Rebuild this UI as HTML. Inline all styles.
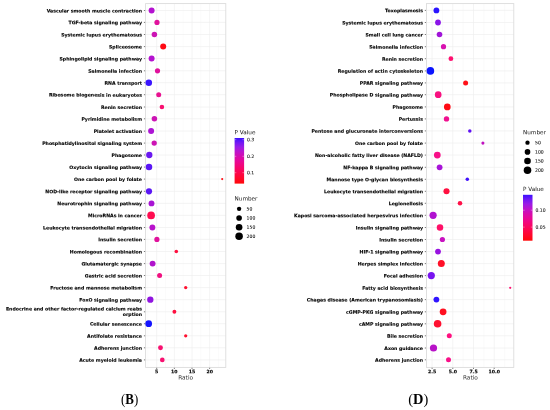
<!DOCTYPE html>
<html><head><meta charset="utf-8"><title>KEGG enrichment bubble plots</title>
<style>
html,body{margin:0;padding:0;background:#fff;}
svg{display:block;}
.lb{font-family:"DejaVu Sans","Liberation Sans",sans-serif;font-weight:bold;font-size:4.67px;fill:#000;stroke:#000;stroke-width:0.12px;}
.ax{font-family:"DejaVu Sans","Liberation Sans",sans-serif;font-size:5.8px;fill:#333;}
.lt{font-family:"DejaVu Sans","Liberation Sans",sans-serif;font-size:5.7px;fill:#111;}
.ll{font-family:"DejaVu Sans","Liberation Sans",sans-serif;font-size:4.55px;fill:#000;stroke:#000;stroke-width:0.05px;}
.cap{font-family:"Liberation Serif","DejaVu Serif",serif;font-size:13.9px;fill:#000;}
</style></head><body>
<svg width="550" height="410" viewBox="0 0 550 410">
<defs><linearGradient id="g1" x1="0" y1="0" x2="0" y2="1">
<stop offset="0" stop-color="#3a10ff"/><stop offset="0.1" stop-color="#7018f4"/><stop offset="0.2" stop-color="#9a1ce6"/><stop offset="0.3" stop-color="#bc14cc"/><stop offset="0.4" stop-color="#d40cb0"/><stop offset="0.5" stop-color="#e60898"/><stop offset="0.6" stop-color="#f2067c"/><stop offset="0.75" stop-color="#fc0650"/><stop offset="0.88" stop-color="#ff082c"/><stop offset="1" stop-color="#ff0808"/>
</linearGradient><linearGradient id="g2" x1="0" y1="0" x2="0" y2="1">
<stop offset="0" stop-color="#3a10ff"/><stop offset="0.1" stop-color="#7018f4"/><stop offset="0.2" stop-color="#9a1ce6"/><stop offset="0.3" stop-color="#bc14cc"/><stop offset="0.4" stop-color="#d40cb0"/><stop offset="0.5" stop-color="#e60898"/><stop offset="0.6" stop-color="#f2067c"/><stop offset="0.75" stop-color="#fc0650"/><stop offset="0.88" stop-color="#ff082c"/><stop offset="1" stop-color="#ff0808"/>
</linearGradient></defs>
<rect width="550" height="410" fill="#fff"/>
<line x1="147.9" y1="3.6" x2="147.9" y2="367.4" stroke="#f6f6f6" stroke-width="0.4"/>
<line x1="165.5" y1="3.6" x2="165.5" y2="367.4" stroke="#f6f6f6" stroke-width="0.4"/>
<line x1="183.2" y1="3.6" x2="183.2" y2="367.4" stroke="#f6f6f6" stroke-width="0.4"/>
<line x1="200.8" y1="3.6" x2="200.8" y2="367.4" stroke="#f6f6f6" stroke-width="0.4"/>
<line x1="218.5" y1="3.6" x2="218.5" y2="367.4" stroke="#f6f6f6" stroke-width="0.4"/>
<line x1="156.7" y1="3.6" x2="156.7" y2="367.4" stroke="#eeeeee" stroke-width="0.65"/>
<line x1="174.35" y1="3.6" x2="174.35" y2="367.4" stroke="#eeeeee" stroke-width="0.65"/>
<line x1="192.0" y1="3.6" x2="192.0" y2="367.4" stroke="#eeeeee" stroke-width="0.65"/>
<line x1="209.65" y1="3.6" x2="209.65" y2="367.4" stroke="#eeeeee" stroke-width="0.65"/>
<line x1="145.6" y1="10.5" x2="225.8" y2="10.5" stroke="#eeeeee" stroke-width="0.65"/>
<line x1="145.6" y1="22.4" x2="225.8" y2="22.4" stroke="#eeeeee" stroke-width="0.65"/>
<line x1="145.6" y1="34.5" x2="225.8" y2="34.5" stroke="#eeeeee" stroke-width="0.65"/>
<line x1="145.6" y1="46.6" x2="225.8" y2="46.6" stroke="#eeeeee" stroke-width="0.65"/>
<line x1="145.6" y1="58.6" x2="225.8" y2="58.6" stroke="#eeeeee" stroke-width="0.65"/>
<line x1="145.6" y1="70.8" x2="225.8" y2="70.8" stroke="#eeeeee" stroke-width="0.65"/>
<line x1="145.6" y1="82.7" x2="225.8" y2="82.7" stroke="#eeeeee" stroke-width="0.65"/>
<line x1="145.6" y1="94.7" x2="225.8" y2="94.7" stroke="#eeeeee" stroke-width="0.65"/>
<line x1="145.6" y1="107.0" x2="225.8" y2="107.0" stroke="#eeeeee" stroke-width="0.65"/>
<line x1="145.6" y1="118.8" x2="225.8" y2="118.8" stroke="#eeeeee" stroke-width="0.65"/>
<line x1="145.6" y1="131.1" x2="225.8" y2="131.1" stroke="#eeeeee" stroke-width="0.65"/>
<line x1="145.6" y1="143.1" x2="225.8" y2="143.1" stroke="#eeeeee" stroke-width="0.65"/>
<line x1="145.6" y1="155.0" x2="225.8" y2="155.0" stroke="#eeeeee" stroke-width="0.65"/>
<line x1="145.6" y1="167.1" x2="225.8" y2="167.1" stroke="#eeeeee" stroke-width="0.65"/>
<line x1="145.6" y1="179.1" x2="225.8" y2="179.1" stroke="#eeeeee" stroke-width="0.65"/>
<line x1="145.6" y1="191.3" x2="225.8" y2="191.3" stroke="#eeeeee" stroke-width="0.65"/>
<line x1="145.6" y1="203.4" x2="225.8" y2="203.4" stroke="#eeeeee" stroke-width="0.65"/>
<line x1="145.6" y1="215.4" x2="225.8" y2="215.4" stroke="#eeeeee" stroke-width="0.65"/>
<line x1="145.6" y1="227.5" x2="225.8" y2="227.5" stroke="#eeeeee" stroke-width="0.65"/>
<line x1="145.6" y1="239.4" x2="225.8" y2="239.4" stroke="#eeeeee" stroke-width="0.65"/>
<line x1="145.6" y1="251.5" x2="225.8" y2="251.5" stroke="#eeeeee" stroke-width="0.65"/>
<line x1="145.6" y1="263.6" x2="225.8" y2="263.6" stroke="#eeeeee" stroke-width="0.65"/>
<line x1="145.6" y1="275.5" x2="225.8" y2="275.5" stroke="#eeeeee" stroke-width="0.65"/>
<line x1="145.6" y1="287.6" x2="225.8" y2="287.6" stroke="#eeeeee" stroke-width="0.65"/>
<line x1="145.6" y1="299.7" x2="225.8" y2="299.7" stroke="#eeeeee" stroke-width="0.65"/>
<line x1="145.6" y1="311.8" x2="225.8" y2="311.8" stroke="#eeeeee" stroke-width="0.65"/>
<line x1="145.6" y1="323.7" x2="225.8" y2="323.7" stroke="#eeeeee" stroke-width="0.65"/>
<line x1="145.6" y1="335.8" x2="225.8" y2="335.8" stroke="#eeeeee" stroke-width="0.65"/>
<line x1="145.6" y1="347.8" x2="225.8" y2="347.8" stroke="#eeeeee" stroke-width="0.65"/>
<line x1="145.6" y1="359.9" x2="225.8" y2="359.9" stroke="#eeeeee" stroke-width="0.65"/>
<rect x="145.6" y="3.6" width="80.20000000000002" height="363.79999999999995" fill="none" stroke="#dadada" stroke-width="0.85"/>
<line x1="143.90" y1="10.5" x2="145.10" y2="10.5" stroke="#444444" stroke-width="0.7"/>
<text transform="translate(142.00,12.45) rotate(0.03)" text-anchor="end" class="lb">Vascular smooth muscle contraction</text>
<circle cx="151.6" cy="10.5" r="3.00" fill="#b412d0"/>
<line x1="143.90" y1="22.4" x2="145.10" y2="22.4" stroke="#444444" stroke-width="0.7"/>
<text transform="translate(142.00,24.35) rotate(0.03)" text-anchor="end" class="lb">TGF-beta signaling pathway</text>
<circle cx="157.0" cy="22.4" r="2.60" fill="#e0129c"/>
<line x1="143.90" y1="34.5" x2="145.10" y2="34.5" stroke="#444444" stroke-width="0.7"/>
<text transform="translate(142.00,36.45) rotate(0.03)" text-anchor="end" class="lb">Systemic lupus erythematosus</text>
<circle cx="154.4" cy="34.5" r="2.75" fill="#cc14b4"/>
<line x1="143.90" y1="46.6" x2="145.10" y2="46.6" stroke="#444444" stroke-width="0.7"/>
<text transform="translate(142.00,48.55) rotate(0.03)" text-anchor="end" class="lb">Spliceosome</text>
<circle cx="163.2" cy="46.6" r="3.00" fill="#ff0a14"/>
<line x1="143.90" y1="58.6" x2="145.10" y2="58.6" stroke="#444444" stroke-width="0.7"/>
<text transform="translate(142.00,60.55) rotate(0.03)" text-anchor="end" class="lb">Sphingolipid signaling pathway</text>
<circle cx="151.6" cy="58.6" r="3.00" fill="#b412d0"/>
<line x1="143.90" y1="70.8" x2="145.10" y2="70.8" stroke="#444444" stroke-width="0.7"/>
<text transform="translate(142.00,72.75) rotate(0.03)" text-anchor="end" class="lb">Salmonella infection</text>
<circle cx="157.5" cy="70.8" r="2.60" fill="#e0129c"/>
<line x1="143.90" y1="82.7" x2="145.10" y2="82.7" stroke="#444444" stroke-width="0.7"/>
<text transform="translate(142.00,84.65) rotate(0.03)" text-anchor="end" class="lb">RNA transport</text>
<circle cx="148.8" cy="82.7" r="3.25" fill="#3a14ff"/>
<line x1="143.90" y1="94.7" x2="145.10" y2="94.7" stroke="#444444" stroke-width="0.7"/>
<text transform="translate(142.00,96.65) rotate(0.03)" text-anchor="end" class="lb">Ribosome biogenesis in eukaryotes</text>
<circle cx="158.7" cy="94.7" r="2.50" fill="#e81290"/>
<line x1="143.90" y1="107.0" x2="145.10" y2="107.0" stroke="#444444" stroke-width="0.7"/>
<text transform="translate(142.00,108.95) rotate(0.03)" text-anchor="end" class="lb">Renin secretion</text>
<circle cx="161.9" cy="107.0" r="2.30" fill="#f81070"/>
<line x1="143.90" y1="118.8" x2="145.10" y2="118.8" stroke="#444444" stroke-width="0.7"/>
<text transform="translate(142.00,120.75) rotate(0.03)" text-anchor="end" class="lb">Pyrimidine metabolism</text>
<circle cx="154.4" cy="118.8" r="2.75" fill="#cc14b4"/>
<line x1="143.90" y1="131.1" x2="145.10" y2="131.1" stroke="#444444" stroke-width="0.7"/>
<text transform="translate(142.00,133.05) rotate(0.03)" text-anchor="end" class="lb">Platelet activation</text>
<circle cx="151.1" cy="131.1" r="3.00" fill="#ac14d4"/>
<line x1="143.90" y1="143.1" x2="145.10" y2="143.1" stroke="#444444" stroke-width="0.7"/>
<text transform="translate(142.00,145.05) rotate(0.03)" text-anchor="end" class="lb">Phosphatidylinositol signaling system</text>
<circle cx="154.2" cy="143.1" r="2.65" fill="#cc14b4"/>
<line x1="143.90" y1="155.0" x2="145.10" y2="155.0" stroke="#444444" stroke-width="0.7"/>
<text transform="translate(142.00,156.95) rotate(0.03)" text-anchor="end" class="lb">Phagosome</text>
<circle cx="149.3" cy="155.0" r="3.15" fill="#6a18f0"/>
<line x1="143.90" y1="167.1" x2="145.10" y2="167.1" stroke="#444444" stroke-width="0.7"/>
<text transform="translate(142.00,169.05) rotate(0.03)" text-anchor="end" class="lb">Oxytocin signaling pathway</text>
<circle cx="149.0" cy="167.1" r="3.25" fill="#5a16f5"/>
<line x1="143.90" y1="179.1" x2="145.10" y2="179.1" stroke="#444444" stroke-width="0.7"/>
<text transform="translate(142.00,181.05) rotate(0.03)" text-anchor="end" class="lb">One carbon pool by folate</text>
<circle cx="222.2" cy="179.1" r="1.05" fill="#ff1018"/>
<line x1="143.90" y1="191.3" x2="145.10" y2="191.3" stroke="#444444" stroke-width="0.7"/>
<text transform="translate(142.00,193.25) rotate(0.03)" text-anchor="end" class="lb">NOD-like receptor signaling pathway</text>
<circle cx="149.0" cy="191.3" r="3.10" fill="#5a16f5"/>
<line x1="143.90" y1="203.4" x2="145.10" y2="203.4" stroke="#444444" stroke-width="0.7"/>
<text transform="translate(142.00,205.35) rotate(0.03)" text-anchor="end" class="lb">Neurotrophin signaling pathway</text>
<circle cx="151.5" cy="203.4" r="2.95" fill="#a814d4"/>
<line x1="143.90" y1="215.4" x2="145.10" y2="215.4" stroke="#444444" stroke-width="0.7"/>
<text transform="translate(142.00,217.35) rotate(0.03)" text-anchor="end" class="lb">MicroRNAs in cancer</text>
<circle cx="151.1" cy="215.4" r="3.85" fill="#ff0c50"/>
<line x1="143.90" y1="227.5" x2="145.10" y2="227.5" stroke="#444444" stroke-width="0.7"/>
<text transform="translate(142.00,229.45) rotate(0.03)" text-anchor="end" class="lb">Leukocyte transendothelial migration</text>
<circle cx="152.4" cy="227.5" r="2.95" fill="#b812cc"/>
<line x1="143.90" y1="239.4" x2="145.10" y2="239.4" stroke="#444444" stroke-width="0.7"/>
<text transform="translate(142.00,241.35) rotate(0.03)" text-anchor="end" class="lb">Insulin secretion</text>
<circle cx="156.9" cy="239.4" r="2.60" fill="#e0129c"/>
<line x1="143.90" y1="251.5" x2="145.10" y2="251.5" stroke="#444444" stroke-width="0.7"/>
<text transform="translate(142.00,253.45) rotate(0.03)" text-anchor="end" class="lb">Homologous recombination</text>
<circle cx="176.3" cy="251.5" r="1.80" fill="#ff1040"/>
<line x1="143.90" y1="263.6" x2="145.10" y2="263.6" stroke="#444444" stroke-width="0.7"/>
<text transform="translate(142.00,265.55) rotate(0.03)" text-anchor="end" class="lb">Glutamatergic synapse</text>
<circle cx="152.6" cy="263.6" r="2.95" fill="#b014cc"/>
<line x1="143.90" y1="275.5" x2="145.10" y2="275.5" stroke="#444444" stroke-width="0.7"/>
<text transform="translate(142.00,277.45) rotate(0.03)" text-anchor="end" class="lb">Gastric acid secretion</text>
<circle cx="159.6" cy="275.5" r="2.50" fill="#f01080"/>
<line x1="143.90" y1="287.6" x2="145.10" y2="287.6" stroke="#444444" stroke-width="0.7"/>
<text transform="translate(142.00,289.55) rotate(0.03)" text-anchor="end" class="lb">Fructose and mannose metabolism</text>
<circle cx="185.7" cy="287.6" r="1.65" fill="#ff1030"/>
<line x1="143.90" y1="299.7" x2="145.10" y2="299.7" stroke="#444444" stroke-width="0.7"/>
<text transform="translate(142.00,301.65) rotate(0.03)" text-anchor="end" class="lb">FoxO signaling pathway</text>
<circle cx="150.3" cy="299.7" r="3.15" fill="#9014e0"/>
<line x1="143.90" y1="311.8" x2="145.10" y2="311.8" stroke="#444444" stroke-width="0.7"/>
<text transform="translate(142.00,310.60) rotate(0.03)" text-anchor="end" class="lb">Endocrine and other factor-regulated calcium reabs</text>
<text transform="translate(142.00,316.10) rotate(0.03)" text-anchor="end" class="lb">orption</text>
<circle cx="174.4" cy="311.8" r="1.95" fill="#ff1040"/>
<line x1="143.90" y1="323.7" x2="145.10" y2="323.7" stroke="#444444" stroke-width="0.7"/>
<text transform="translate(142.00,325.65) rotate(0.03)" text-anchor="end" class="lb">Cellular senescence</text>
<circle cx="148.7" cy="323.7" r="3.35" fill="#1414ff"/>
<line x1="143.90" y1="335.8" x2="145.10" y2="335.8" stroke="#444444" stroke-width="0.7"/>
<text transform="translate(142.00,337.75) rotate(0.03)" text-anchor="end" class="lb">Antifolate resistance</text>
<circle cx="185.7" cy="335.8" r="1.65" fill="#ff1030"/>
<line x1="143.90" y1="347.8" x2="145.10" y2="347.8" stroke="#444444" stroke-width="0.7"/>
<text transform="translate(142.00,349.75) rotate(0.03)" text-anchor="end" class="lb">Adherens junction</text>
<circle cx="160.5" cy="347.8" r="2.45" fill="#f81070"/>
<line x1="143.90" y1="359.9" x2="145.10" y2="359.9" stroke="#444444" stroke-width="0.7"/>
<text transform="translate(142.00,361.85) rotate(0.03)" text-anchor="end" class="lb">Acute myeloid leukemia</text>
<circle cx="162.3" cy="359.9" r="2.35" fill="#f81070"/>
<line x1="156.7" y1="367.79999999999995" x2="156.7" y2="369.0" stroke="#444444" stroke-width="0.7"/>
<text transform="translate(156.70,373.20) rotate(0.03)" text-anchor="middle" class="lb">5</text>
<line x1="174.35" y1="367.79999999999995" x2="174.35" y2="369.0" stroke="#444444" stroke-width="0.7"/>
<text transform="translate(174.35,373.20) rotate(0.03)" text-anchor="middle" class="lb">10</text>
<line x1="192.0" y1="367.79999999999995" x2="192.0" y2="369.0" stroke="#444444" stroke-width="0.7"/>
<text transform="translate(192.00,373.20) rotate(0.03)" text-anchor="middle" class="lb">15</text>
<line x1="209.65" y1="367.79999999999995" x2="209.65" y2="369.0" stroke="#444444" stroke-width="0.7"/>
<text transform="translate(209.65,373.20) rotate(0.03)" text-anchor="middle" class="lb">20</text>
<text transform="translate(185.60,379.60) rotate(0.03)" text-anchor="middle" class="ax">Ratio</text>
<line x1="442.45" y1="3.6" x2="442.45" y2="367.4" stroke="#f6f6f6" stroke-width="0.4"/>
<line x1="463.15" y1="3.6" x2="463.15" y2="367.4" stroke="#f6f6f6" stroke-width="0.4"/>
<line x1="483.85" y1="3.6" x2="483.85" y2="367.4" stroke="#f6f6f6" stroke-width="0.4"/>
<line x1="504.55" y1="3.6" x2="504.55" y2="367.4" stroke="#f6f6f6" stroke-width="0.4"/>
<line x1="432.1" y1="3.6" x2="432.1" y2="367.4" stroke="#eeeeee" stroke-width="0.65"/>
<line x1="452.8" y1="3.6" x2="452.8" y2="367.4" stroke="#eeeeee" stroke-width="0.65"/>
<line x1="473.5" y1="3.6" x2="473.5" y2="367.4" stroke="#eeeeee" stroke-width="0.65"/>
<line x1="494.2" y1="3.6" x2="494.2" y2="367.4" stroke="#eeeeee" stroke-width="0.65"/>
<line x1="426.5" y1="10.4" x2="513.8" y2="10.4" stroke="#eeeeee" stroke-width="0.65"/>
<line x1="426.5" y1="22.5" x2="513.8" y2="22.5" stroke="#eeeeee" stroke-width="0.65"/>
<line x1="426.5" y1="34.5" x2="513.8" y2="34.5" stroke="#eeeeee" stroke-width="0.65"/>
<line x1="426.5" y1="46.7" x2="513.8" y2="46.7" stroke="#eeeeee" stroke-width="0.65"/>
<line x1="426.5" y1="58.7" x2="513.8" y2="58.7" stroke="#eeeeee" stroke-width="0.65"/>
<line x1="426.5" y1="70.9" x2="513.8" y2="70.9" stroke="#eeeeee" stroke-width="0.65"/>
<line x1="426.5" y1="82.9" x2="513.8" y2="82.9" stroke="#eeeeee" stroke-width="0.65"/>
<line x1="426.5" y1="94.7" x2="513.8" y2="94.7" stroke="#eeeeee" stroke-width="0.65"/>
<line x1="426.5" y1="106.9" x2="513.8" y2="106.9" stroke="#eeeeee" stroke-width="0.65"/>
<line x1="426.5" y1="118.9" x2="513.8" y2="118.9" stroke="#eeeeee" stroke-width="0.65"/>
<line x1="426.5" y1="130.9" x2="513.8" y2="130.9" stroke="#eeeeee" stroke-width="0.65"/>
<line x1="426.5" y1="143.1" x2="513.8" y2="143.1" stroke="#eeeeee" stroke-width="0.65"/>
<line x1="426.5" y1="155.1" x2="513.8" y2="155.1" stroke="#eeeeee" stroke-width="0.65"/>
<line x1="426.5" y1="167.3" x2="513.8" y2="167.3" stroke="#eeeeee" stroke-width="0.65"/>
<line x1="426.5" y1="179.3" x2="513.8" y2="179.3" stroke="#eeeeee" stroke-width="0.65"/>
<line x1="426.5" y1="191.3" x2="513.8" y2="191.3" stroke="#eeeeee" stroke-width="0.65"/>
<line x1="426.5" y1="203.3" x2="513.8" y2="203.3" stroke="#eeeeee" stroke-width="0.65"/>
<line x1="426.5" y1="215.3" x2="513.8" y2="215.3" stroke="#eeeeee" stroke-width="0.65"/>
<line x1="426.5" y1="227.5" x2="513.8" y2="227.5" stroke="#eeeeee" stroke-width="0.65"/>
<line x1="426.5" y1="239.5" x2="513.8" y2="239.5" stroke="#eeeeee" stroke-width="0.65"/>
<line x1="426.5" y1="251.6" x2="513.8" y2="251.6" stroke="#eeeeee" stroke-width="0.65"/>
<line x1="426.5" y1="263.6" x2="513.8" y2="263.6" stroke="#eeeeee" stroke-width="0.65"/>
<line x1="426.5" y1="275.6" x2="513.8" y2="275.6" stroke="#eeeeee" stroke-width="0.65"/>
<line x1="426.5" y1="287.8" x2="513.8" y2="287.8" stroke="#eeeeee" stroke-width="0.65"/>
<line x1="426.5" y1="299.6" x2="513.8" y2="299.6" stroke="#eeeeee" stroke-width="0.65"/>
<line x1="426.5" y1="311.8" x2="513.8" y2="311.8" stroke="#eeeeee" stroke-width="0.65"/>
<line x1="426.5" y1="323.8" x2="513.8" y2="323.8" stroke="#eeeeee" stroke-width="0.65"/>
<line x1="426.5" y1="335.8" x2="513.8" y2="335.8" stroke="#eeeeee" stroke-width="0.65"/>
<line x1="426.5" y1="348.0" x2="513.8" y2="348.0" stroke="#eeeeee" stroke-width="0.65"/>
<line x1="426.5" y1="359.8" x2="513.8" y2="359.8" stroke="#eeeeee" stroke-width="0.65"/>
<rect x="426.5" y="3.6" width="87.29999999999995" height="363.79999999999995" fill="none" stroke="#dadada" stroke-width="0.85"/>
<line x1="424.80" y1="10.4" x2="426.00" y2="10.4" stroke="#444444" stroke-width="0.7"/>
<text transform="translate(423.00,12.35) rotate(0.03)" text-anchor="end" class="lb">Toxoplasmosis</text>
<circle cx="436.4" cy="10.4" r="2.90" fill="#2a14ff"/>
<line x1="424.80" y1="22.5" x2="426.00" y2="22.5" stroke="#444444" stroke-width="0.7"/>
<text transform="translate(423.00,24.45) rotate(0.03)" text-anchor="end" class="lb">Systemic lupus erythematosus</text>
<circle cx="438.0" cy="22.5" r="2.90" fill="#8a14e8"/>
<line x1="424.80" y1="34.5" x2="426.00" y2="34.5" stroke="#444444" stroke-width="0.7"/>
<text transform="translate(423.00,36.45) rotate(0.03)" text-anchor="end" class="lb">Small cell lung cancer</text>
<circle cx="439.5" cy="34.5" r="2.80" fill="#a014d8"/>
<line x1="424.80" y1="46.7" x2="426.00" y2="46.7" stroke="#444444" stroke-width="0.7"/>
<text transform="translate(423.00,48.65) rotate(0.03)" text-anchor="end" class="lb">Salmonella infection</text>
<circle cx="443.5" cy="46.7" r="2.60" fill="#d812b0"/>
<line x1="424.80" y1="58.7" x2="426.00" y2="58.7" stroke="#444444" stroke-width="0.7"/>
<text transform="translate(423.00,60.65) rotate(0.03)" text-anchor="end" class="lb">Renin secretion</text>
<circle cx="450.9" cy="58.7" r="2.40" fill="#ff1070"/>
<line x1="424.80" y1="70.9" x2="426.00" y2="70.9" stroke="#444444" stroke-width="0.7"/>
<text transform="translate(423.00,72.85) rotate(0.03)" text-anchor="end" class="lb">Regulation of actin cytoskeleton</text>
<circle cx="430.4" cy="70.9" r="3.80" fill="#0a14ff"/>
<line x1="424.80" y1="82.9" x2="426.00" y2="82.9" stroke="#444444" stroke-width="0.7"/>
<text transform="translate(423.00,84.85) rotate(0.03)" text-anchor="end" class="lb">PPAR signaling pathway</text>
<circle cx="465.6" cy="82.9" r="2.50" fill="#ff1018"/>
<line x1="424.80" y1="94.7" x2="426.00" y2="94.7" stroke="#444444" stroke-width="0.7"/>
<text transform="translate(423.00,96.65) rotate(0.03)" text-anchor="end" class="lb">Phospholipase D signaling pathway</text>
<circle cx="438.2" cy="94.7" r="3.35" fill="#f81080"/>
<line x1="424.80" y1="106.9" x2="426.00" y2="106.9" stroke="#444444" stroke-width="0.7"/>
<text transform="translate(423.00,108.85) rotate(0.03)" text-anchor="end" class="lb">Phagosome</text>
<circle cx="447.3" cy="106.9" r="3.35" fill="#ff0a14"/>
<line x1="424.80" y1="118.9" x2="426.00" y2="118.9" stroke="#444444" stroke-width="0.7"/>
<text transform="translate(423.00,120.85) rotate(0.03)" text-anchor="end" class="lb">Pertussis</text>
<circle cx="446.5" cy="118.9" r="2.70" fill="#f01090"/>
<line x1="424.80" y1="130.9" x2="426.00" y2="130.9" stroke="#444444" stroke-width="0.7"/>
<text transform="translate(423.00,132.85) rotate(0.03)" text-anchor="end" class="lb">Pentose and glucuronate interconversions</text>
<circle cx="469.8" cy="130.9" r="1.75" fill="#6010f4"/>
<line x1="424.80" y1="143.1" x2="426.00" y2="143.1" stroke="#444444" stroke-width="0.7"/>
<text transform="translate(423.00,145.05) rotate(0.03)" text-anchor="end" class="lb">One carbon pool by folate</text>
<circle cx="482.9" cy="143.1" r="1.55" fill="#c012c0"/>
<line x1="424.80" y1="155.1" x2="426.00" y2="155.1" stroke="#444444" stroke-width="0.7"/>
<text transform="translate(423.00,157.05) rotate(0.03)" text-anchor="end" class="lb">Non-alcoholic fatty liver disease (NAFLD)</text>
<circle cx="437.3" cy="155.1" r="3.40" fill="#f81088"/>
<line x1="424.80" y1="167.3" x2="426.00" y2="167.3" stroke="#444444" stroke-width="0.7"/>
<text transform="translate(423.00,169.25) rotate(0.03)" text-anchor="end" class="lb">NF-kappa B signaling pathway</text>
<circle cx="439.6" cy="167.3" r="2.90" fill="#a814d8"/>
<line x1="424.80" y1="179.3" x2="426.00" y2="179.3" stroke="#444444" stroke-width="0.7"/>
<text transform="translate(423.00,181.25) rotate(0.03)" text-anchor="end" class="lb">Mannose type O-glycan biosynthesis</text>
<circle cx="467.3" cy="179.3" r="1.75" fill="#4010fc"/>
<line x1="424.80" y1="191.3" x2="426.00" y2="191.3" stroke="#444444" stroke-width="0.7"/>
<text transform="translate(423.00,193.25) rotate(0.03)" text-anchor="end" class="lb">Leukocyte transendothelial migration</text>
<circle cx="446.5" cy="191.3" r="3.05" fill="#ff1040"/>
<line x1="424.80" y1="203.3" x2="426.00" y2="203.3" stroke="#444444" stroke-width="0.7"/>
<text transform="translate(423.00,205.25) rotate(0.03)" text-anchor="end" class="lb">Legionellosis</text>
<circle cx="460.0" cy="203.3" r="2.25" fill="#ff1048"/>
<line x1="424.80" y1="215.3" x2="426.00" y2="215.3" stroke="#444444" stroke-width="0.7"/>
<text transform="translate(423.00,217.25) rotate(0.03)" text-anchor="end" class="lb">Kaposi sarcoma-associated herpesvirus infection</text>
<circle cx="433.1" cy="215.3" r="3.60" fill="#b012d0"/>
<line x1="424.80" y1="227.5" x2="426.00" y2="227.5" stroke="#444444" stroke-width="0.7"/>
<text transform="translate(423.00,229.45) rotate(0.03)" text-anchor="end" class="lb">Insulin signaling pathway</text>
<circle cx="440.0" cy="227.5" r="3.25" fill="#ff1068"/>
<line x1="424.80" y1="239.5" x2="426.00" y2="239.5" stroke="#444444" stroke-width="0.7"/>
<text transform="translate(423.00,241.45) rotate(0.03)" text-anchor="end" class="lb">Insulin secretion</text>
<circle cx="442.4" cy="239.5" r="2.60" fill="#c812c0"/>
<line x1="424.80" y1="251.6" x2="426.00" y2="251.6" stroke="#444444" stroke-width="0.7"/>
<text transform="translate(423.00,253.55) rotate(0.03)" text-anchor="end" class="lb">HIF-1 signaling pathway</text>
<circle cx="438.0" cy="251.6" r="2.90" fill="#9812e0"/>
<line x1="424.80" y1="263.6" x2="426.00" y2="263.6" stroke="#444444" stroke-width="0.7"/>
<text transform="translate(423.00,265.55) rotate(0.03)" text-anchor="end" class="lb">Herpes simplex infection</text>
<circle cx="441.3" cy="263.6" r="3.50" fill="#ff1028"/>
<line x1="424.80" y1="275.6" x2="426.00" y2="275.6" stroke="#444444" stroke-width="0.7"/>
<text transform="translate(423.00,277.55) rotate(0.03)" text-anchor="end" class="lb">Focal adhesion</text>
<circle cx="431.3" cy="275.6" r="3.60" fill="#7814f0"/>
<line x1="424.80" y1="287.8" x2="426.00" y2="287.8" stroke="#444444" stroke-width="0.7"/>
<text transform="translate(423.00,289.75) rotate(0.03)" text-anchor="end" class="lb">Fatty acid biosynthesis</text>
<circle cx="510.2" cy="287.8" r="1.10" fill="#ff1070"/>
<line x1="424.80" y1="299.6" x2="426.00" y2="299.6" stroke="#444444" stroke-width="0.7"/>
<text transform="translate(423.00,301.55) rotate(0.03)" text-anchor="end" class="lb">Chagas disease (American trypanosomiasis)</text>
<circle cx="436.4" cy="299.6" r="2.90" fill="#3014ff"/>
<line x1="424.80" y1="311.8" x2="426.00" y2="311.8" stroke="#444444" stroke-width="0.7"/>
<text transform="translate(423.00,313.75) rotate(0.03)" text-anchor="end" class="lb">cGMP-PKG signaling pathway</text>
<circle cx="443.1" cy="311.8" r="3.40" fill="#ff1020"/>
<line x1="424.80" y1="323.8" x2="426.00" y2="323.8" stroke="#444444" stroke-width="0.7"/>
<text transform="translate(423.00,325.75) rotate(0.03)" text-anchor="end" class="lb">cAMP signaling pathway</text>
<circle cx="437.6" cy="323.8" r="3.80" fill="#ff1030"/>
<line x1="424.80" y1="335.8" x2="426.00" y2="335.8" stroke="#444444" stroke-width="0.7"/>
<text transform="translate(423.00,337.75) rotate(0.03)" text-anchor="end" class="lb">Bile secretion</text>
<circle cx="449.3" cy="335.8" r="2.50" fill="#ff1080"/>
<line x1="424.80" y1="348.0" x2="426.00" y2="348.0" stroke="#444444" stroke-width="0.7"/>
<text transform="translate(423.00,349.95) rotate(0.03)" text-anchor="end" class="lb">Axon guidance</text>
<circle cx="433.5" cy="348.0" r="3.60" fill="#b812c8"/>
<line x1="424.80" y1="359.8" x2="426.00" y2="359.8" stroke="#444444" stroke-width="0.7"/>
<text transform="translate(423.00,361.75) rotate(0.03)" text-anchor="end" class="lb">Adherens junction</text>
<circle cx="448.5" cy="359.8" r="2.50" fill="#f81088"/>
<line x1="432.1" y1="367.79999999999995" x2="432.1" y2="369.0" stroke="#444444" stroke-width="0.7"/>
<text transform="translate(432.10,373.20) rotate(0.03)" text-anchor="middle" class="lb">2.5</text>
<line x1="452.8" y1="367.79999999999995" x2="452.8" y2="369.0" stroke="#444444" stroke-width="0.7"/>
<text transform="translate(452.80,373.20) rotate(0.03)" text-anchor="middle" class="lb">5.0</text>
<line x1="473.5" y1="367.79999999999995" x2="473.5" y2="369.0" stroke="#444444" stroke-width="0.7"/>
<text transform="translate(473.50,373.20) rotate(0.03)" text-anchor="middle" class="lb">7.5</text>
<line x1="494.2" y1="367.79999999999995" x2="494.2" y2="369.0" stroke="#444444" stroke-width="0.7"/>
<text transform="translate(494.20,373.20) rotate(0.03)" text-anchor="middle" class="lb">10.0</text>
<text transform="translate(470.40,379.60) rotate(0.03)" text-anchor="middle" class="ax">Ratio</text>
<text transform="translate(234.60,134.20) rotate(0.03)" class="lt">P Value</text>
<rect x="234.6" y="138.0" width="9.5" height="45.6" fill="url(#g1)"/>
<line x1="234.6" y1="139.7" x2="236.29999999999998" y2="139.7" stroke="#fff" stroke-opacity="0.7" stroke-width="0.5"/>
<line x1="242.4" y1="139.7" x2="244.1" y2="139.7" stroke="#fff" stroke-opacity="0.7" stroke-width="0.5"/>
<text transform="translate(247.00,141.35) rotate(0.03)" class="ll">0.3</text>
<line x1="234.6" y1="156.3" x2="236.29999999999998" y2="156.3" stroke="#fff" stroke-opacity="0.7" stroke-width="0.5"/>
<line x1="242.4" y1="156.3" x2="244.1" y2="156.3" stroke="#fff" stroke-opacity="0.7" stroke-width="0.5"/>
<text transform="translate(247.00,157.95) rotate(0.03)" class="ll">0.2</text>
<line x1="234.6" y1="172.7" x2="236.29999999999998" y2="172.7" stroke="#fff" stroke-opacity="0.7" stroke-width="0.5"/>
<line x1="242.4" y1="172.7" x2="244.1" y2="172.7" stroke="#fff" stroke-opacity="0.7" stroke-width="0.5"/>
<text transform="translate(247.00,174.35) rotate(0.03)" class="ll">0.1</text>
<text transform="translate(234.60,200.40) rotate(0.03)" class="lt">Number</text>
<circle cx="239.10" cy="208.8" r="2.17" fill="#000"/>
<text transform="translate(246.60,210.38) rotate(0.03)" class="ll">50</text>
<circle cx="239.10" cy="218.0" r="2.82" fill="#000"/>
<text transform="translate(246.60,219.58) rotate(0.03)" class="ll">100</text>
<circle cx="239.10" cy="227.2" r="3.32" fill="#000"/>
<text transform="translate(246.60,228.78) rotate(0.03)" class="ll">150</text>
<circle cx="239.10" cy="236.3" r="3.77" fill="#000"/>
<text transform="translate(246.60,237.88) rotate(0.03)" class="ll">200</text>
<text transform="translate(523.00,134.30) rotate(0.03)" class="lt">Number</text>
<circle cx="527.50" cy="142.7" r="2.17" fill="#000"/>
<text transform="translate(535.00,144.28) rotate(0.03)" class="ll">50</text>
<circle cx="527.50" cy="151.9" r="2.82" fill="#000"/>
<text transform="translate(535.00,153.48) rotate(0.03)" class="ll">100</text>
<circle cx="527.50" cy="161.0" r="3.32" fill="#000"/>
<text transform="translate(535.00,162.58) rotate(0.03)" class="ll">150</text>
<circle cx="527.50" cy="170.2" r="3.77" fill="#000"/>
<text transform="translate(535.00,171.78) rotate(0.03)" class="ll">200</text>
<text transform="translate(523.00,191.00) rotate(0.03)" class="lt">P Value</text>
<rect x="523.0" y="194.8" width="9.5" height="45.9" fill="url(#g2)"/>
<line x1="523.0" y1="210.2" x2="524.7" y2="210.2" stroke="#fff" stroke-opacity="0.7" stroke-width="0.5"/>
<line x1="530.8" y1="210.2" x2="532.5" y2="210.2" stroke="#fff" stroke-opacity="0.7" stroke-width="0.5"/>
<text transform="translate(535.40,211.85) rotate(0.03)" class="ll">0.10</text>
<line x1="523.0" y1="227.1" x2="524.7" y2="227.1" stroke="#fff" stroke-opacity="0.7" stroke-width="0.5"/>
<line x1="530.8" y1="227.1" x2="532.5" y2="227.1" stroke="#fff" stroke-opacity="0.7" stroke-width="0.5"/>
<text transform="translate(535.40,228.75) rotate(0.03)" class="ll">0.05</text>
<text x="121.0" y="403.55" class="cap" textLength="17.2" lengthAdjust="spacingAndGlyphs">(<tspan font-weight="bold">B</tspan>)</text>
<text x="408.2" y="403.55" class="cap" textLength="20.1" lengthAdjust="spacingAndGlyphs">(<tspan font-weight="bold">D</tspan>)</text>
</svg>
</body></html>
